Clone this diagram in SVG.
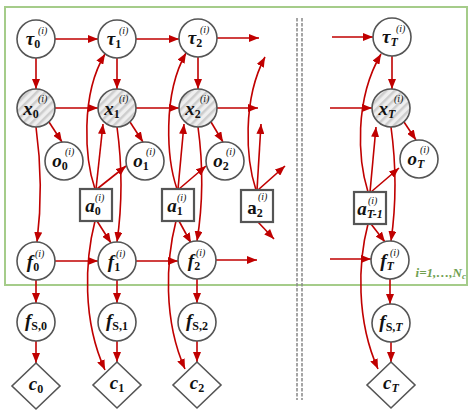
<svg xmlns="http://www.w3.org/2000/svg" width="474" height="415" viewBox="0 0 474 415">
<defs>
<style>
.n{fill:#fff;stroke:#555;stroke-width:1.6}
.h{fill:url(#hatch);stroke:#555;stroke-width:1.6}
.sq{fill:#fff;stroke:#555;stroke-width:2.2}
.e{fill:none;stroke:#C00000;stroke-width:1.6;marker-end:url(#ah)}
.lb{font-family:"Liberation Serif",serif;font-weight:bold;font-style:italic;font-size:19px;fill:#111}
.sb{font-size:12px;font-style:normal}
.it{font-style:italic}
.up{font-style:normal}
.sp{font-family:"Liberation Serif",serif;font-style:italic;font-size:10px;fill:#111}
.dash{stroke:#888;stroke-width:1.5;stroke-dasharray:3.5 1.5;fill:none}
</style>
<marker id="ah" markerUnits="userSpaceOnUse" markerWidth="10" markerHeight="8" refX="10" refY="4" orient="auto">
<path d="M0,0 L10,4 L0,8 z" fill="#C00000"/>
</marker>
<pattern id="hatch" patternUnits="userSpaceOnUse" width="6" height="6" patternTransform="rotate(45)">
<rect width="6" height="6" fill="#efefef"/>
<rect width="2.5" height="6" fill="#cdcdcd"/>
</pattern>
</defs>
<rect x="0" y="0" width="474" height="415" fill="#fff"/>
<rect x="5" y="7" width="462" height="278" fill="none" stroke="#a5cc8a" stroke-width="2"/>
<path class="dash" d="M297,18 V400 M302,18 V400"/>
<text x="466" y="277" text-anchor="end" font-family="Liberation Serif,serif" font-weight="bold" font-style="italic" font-size="13" fill="#70a050">i=1,…,N<tspan font-size="9" dy="2">c</tspan></text>

<g id="connectors">
<path class="e" d="M55,39 H98"/><path class="e" d="M136,39 H179"/><path class="e" d="M217,38 H259"/><path class="e" d="M332,37 H373"/>
<path class="e" d="M36,58 V89"/><path class="e" d="M117,58 V89"/><path class="e" d="M198,57 V89"/><path class="e" d="M392,56 V89"/>
<path class="e" d="M55,108 H98"/><path class="e" d="M136,108 H179"/><path class="e" d="M217,108 H258"/><path class="e" d="M330,108 H372"/>
<path class="e" d="M49,122 L62,142"/><path class="e" d="M130,122 L143,142"/><path class="e" d="M211,122 L223,142"/><path class="e" d="M404,122 L416,140"/>
<path class="e" d="M36,127 Q44,185 37,242"/><path class="e" d="M117,127 Q125,185 117,242"/><path class="e" d="M198,127 Q206,185 197,241"/><path class="e" d="M391,127 Q399,185 391,241"/>
<path class="e" d="M96,189 L103,124"/><path class="e" d="M95,189 C85,160 80,95 105,54"/><path class="e" d="M97,189 L126,166"/><path class="e" d="M97,221 L111,243"/><path class="e" d="M95,221 C85,260 82,320 105,370"/>
<path class="e" d="M178,189 L184,124"/><path class="e" d="M177,189 C167,160 162,95 186,53"/><path class="e" d="M179,189 L206,166"/><path class="e" d="M179,221 L191,243"/><path class="e" d="M176,221 C166,260 163,320 185,369"/>
<path class="e" d="M256,190 C246,160 242,100 265,57"/><path class="e" d="M257,190 L261,124"/><path class="e" d="M258,190 L285,166"/><path class="e" d="M258,222 L274,239"/>
<path class="e" d="M368,192 C358,160 354,100 381,54"/><path class="e" d="M370,192 L376,127"/><path class="e" d="M371,192 L399,168"/><path class="e" d="M371,224 L385,242"/><path class="e" d="M368,224 C358,262 356,320 378,369"/>
<path class="e" d="M55,261 H98"/><path class="e" d="M136,261 H178"/><path class="e" d="M216,260 H257"/><path class="e" d="M330,259 H371"/>
<path class="e" d="M36,280 V303"/><path class="e" d="M117,280 V303"/><path class="e" d="M197,279 V303"/><path class="e" d="M390,279 V304"/>
<path class="e" d="M36,341 V363"/><path class="e" d="M117,341 V362"/><path class="e" d="M197,341 V362"/><path class="e" d="M391,342 V362"/>
</g>

<g id="tau0"><circle class="n" cx="36" cy="39" r="19"/><text class="lb" x="33" y="45" text-anchor="middle">τ<tspan class="sb" dy="3">0</tspan></text><text class="sp" x="38" y="34">(i)</text></g>
<g id="tau1"><circle class="n" cx="117" cy="39" r="19"/><text class="lb" x="114" y="45" text-anchor="middle">τ<tspan class="sb" dy="3">1</tspan></text><text class="sp" x="119" y="34">(i)</text></g>
<g id="tau2"><circle class="n" cx="198" cy="38" r="19"/><text class="lb" x="195" y="44" text-anchor="middle">τ<tspan class="sb" dy="3">2</tspan></text><text class="sp" x="200" y="33">(i)</text></g>
<g id="tauT"><circle class="n" cx="392" cy="37" r="19"/><text class="lb" x="390" y="43" text-anchor="middle">τ<tspan class="sb it" dy="3">T</tspan></text><text class="sp" x="396" y="32">(i)</text></g>

<g id="x0"><circle class="h" cx="36" cy="108" r="19"/><text class="lb" x="31" y="115" text-anchor="middle">x<tspan class="sb" dy="3">0</tspan></text><text class="sp" x="38" y="102">(i)</text></g>
<g id="x1"><circle class="h" cx="117" cy="108" r="19"/><text class="lb" x="112" y="115" text-anchor="middle">x<tspan class="sb" dy="3">1</tspan></text><text class="sp" x="119" y="102">(i)</text></g>
<g id="x2"><circle class="h" cx="198" cy="108" r="19"/><text class="lb" x="193" y="115" text-anchor="middle">x<tspan class="sb" dy="3">2</tspan></text><text class="sp" x="200" y="102">(i)</text></g>
<g id="xT"><circle class="h" cx="391" cy="108" r="19"/><text class="lb" x="387" y="115" text-anchor="middle">x<tspan class="sb it" dy="3">T</tspan></text><text class="sp" x="394" y="102">(i)</text></g>

<g id="o0"><circle class="n" cx="64" cy="161" r="19"/><text class="lb" x="60" y="167" text-anchor="middle">o<tspan class="sb" dy="3">0</tspan></text><text class="sp" x="65" y="155">(i)</text></g>
<g id="o1"><circle class="n" cx="145" cy="161" r="19"/><text class="lb" x="141" y="167" text-anchor="middle">o<tspan class="sb" dy="3">1</tspan></text><text class="sp" x="146" y="155">(i)</text></g>
<g id="o2"><circle class="n" cx="225" cy="161" r="19"/><text class="lb" x="221" y="167" text-anchor="middle">o<tspan class="sb" dy="3">2</tspan></text><text class="sp" x="226" y="155">(i)</text></g>
<g id="oT"><circle class="n" cx="419" cy="159" r="19"/><text class="lb" x="416" y="165" text-anchor="middle">o<tspan class="sb it" dy="3">T</tspan></text><text class="sp" x="420" y="153">(i)</text></g>

<g id="a0"><rect class="sq" x="80" y="189" width="32" height="32"/><text class="lb" x="93" y="212" text-anchor="middle">a<tspan class="sb" dy="3">0</tspan></text><text class="sp" x="95" y="201">(i)</text></g>
<g id="a1"><rect class="sq" x="162" y="189" width="32" height="32"/><text class="lb" x="175" y="212" text-anchor="middle">a<tspan class="sb" dy="3">1</tspan></text><text class="sp" x="177" y="201">(i)</text></g>
<g id="a2"><rect class="sq" x="241" y="190" width="32" height="32"/><text class="lb up" x="255" y="214" text-anchor="middle">a<tspan class="sb" dy="3">2</tspan></text><text class="sp" x="258" y="200">(i)</text></g>
<g id="aT1"><rect class="sq" x="354" y="192" width="32" height="32"/><text class="lb" x="370" y="215" text-anchor="middle">a<tspan class="sb it" dy="3">T-1</tspan></text><text class="sp" x="368" y="204">(i)</text></g>

<g id="f0"><circle class="n" cx="36" cy="261" r="19"/><text class="lb" x="33" y="268" text-anchor="middle">f<tspan class="sb" dy="3">0</tspan></text><text class="sp" x="35" y="257">(i)</text></g>
<g id="f1"><circle class="n" cx="117" cy="261" r="19"/><text class="lb" x="114" y="268" text-anchor="middle">f<tspan class="sb" dy="3">1</tspan></text><text class="sp" x="116" y="257">(i)</text></g>
<g id="f2"><circle class="n" cx="197" cy="260" r="19"/><text class="lb" x="194" y="267" text-anchor="middle">f<tspan class="sb" dy="3">2</tspan></text><text class="sp" x="196" y="256">(i)</text></g>
<g id="fT"><circle class="n" cx="390" cy="260" r="19"/><text class="lb" x="387" y="267" text-anchor="middle">f<tspan class="sb it" dy="3">T</tspan></text><text class="sp" x="390" y="256">(i)</text></g>

<g id="fS0"><circle class="n" cx="36" cy="322" r="19"/><text class="lb" x="36" y="327" text-anchor="middle">f<tspan class="sb" dy="3">S,0</tspan></text></g>
<g id="fS1"><circle class="n" cx="117" cy="322" r="19"/><text class="lb" x="117" y="327" text-anchor="middle">f<tspan class="sb" dy="3">S,1</tspan></text></g>
<g id="fS2"><circle class="n" cx="197" cy="322" r="19"/><text class="lb" x="197" y="327" text-anchor="middle">f<tspan class="sb" dy="3">S,2</tspan></text></g>
<g id="fST"><circle class="n" cx="391" cy="323" r="19"/><text class="lb" x="391" y="328" text-anchor="middle">f<tspan class="sb" dy="3">S,</tspan><tspan class="sb it">T</tspan></text></g>

<g id="c0"><path class="n" d="M36,363 L60,386 L36,409 L12,386 z"/><text class="lb" x="36" y="390" text-anchor="middle">c<tspan class="sb" dy="3">0</tspan></text></g>
<g id="c1"><path class="n" d="M117,362 L141,385 L117,408 L93,385 z"/><text class="lb" x="117" y="389" text-anchor="middle">c<tspan class="sb" dy="3">1</tspan></text></g>
<g id="c2"><path class="n" d="M197,362 L221,385 L197,408 L173,385 z"/><text class="lb" x="197" y="389" text-anchor="middle">c<tspan class="sb" dy="3">2</tspan></text></g>
<g id="cT"><path class="n" d="M391,362 L415,385 L391,408 L367,385 z"/><text class="lb" x="391" y="389" text-anchor="middle">c<tspan class="sb it" dy="3">T</tspan></text></g>
</svg>
